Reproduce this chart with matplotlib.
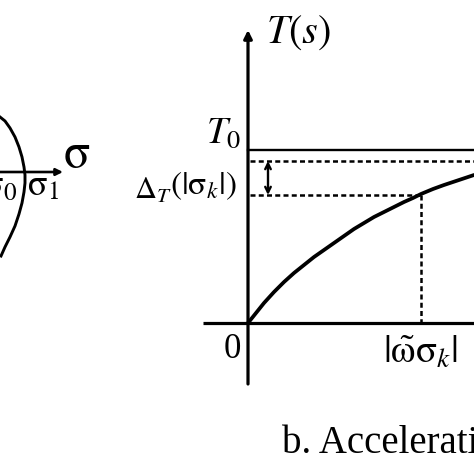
import matplotlib
matplotlib.use('Agg')
import matplotlib.pyplot as plt

# diagram coordinates (pixel space, y grows downwards)
origin = (248, 323)
t0_level = 150
delta_top = 161
delta_bottom = 195
sigma_k_x = 421

# T(s) curve, points
curve_x = [248, 256, 264, 274, 284, 294, 304, 314, 324, 334, 344, 354, 364, 374, 384, 394, 404, 413, 421, 433, 444, 459, 474]
curve_y = [323, 313, 303, 292, 282, 273, 265, 257, 250, 243, 236, 229, 223, 217, 212, 207, 202, 198, 194, 189, 185, 180, 175]

# left panel: closed boundary and sigma axis
left_x = [0, 5, 10, 15, 19, 22, 24, 25, 25, 24, 22, 19, 15, 10, 5, 1]
left_y = [117, 121, 128, 137, 147, 157, 167, 175, 183, 192, 203, 214, 226, 237, 247, 256]
sigma_axis_y = 172

plt.rcParams['font.family'] = ['Liberation Serif', 'DejaVu Serif']
plt.rcParams['mathtext.fontset'] = 'stix'


def main():
	fig = plt.figure(figsize=(4.74, 4.74), dpi=100)
	ax = fig.add_axes([0, 0, 1, 1])
	ax.set_xlim(0, 474)
	ax.set_ylim(474, 0)
	ax.axis('off')

	ox, oy = origin
	dash = (0, (2.0, 1.3))

	# axes of panel b
	ax.annotate('', xy=(ox, 30), xytext=(ox, 384),
		arrowprops=dict(arrowstyle='-|>', lw=2.3, color='black',
			mutation_scale=12, shrinkA=0, shrinkB=0))
	ax.plot([203, 474], [oy, oy], color='black', lw=2.3, solid_capstyle='butt')

	# T0 level and the delta levels
	ax.plot([ox, 474], [t0_level, t0_level], color='black', lw=1.7)
	ax.plot([ox + 2, 474], [delta_top, delta_top], color='black', lw=1.8, ls=dash)
	ax.plot([ox + 2, sigma_k_x], [delta_bottom, delta_bottom], color='black', lw=1.8, ls=dash)
	ax.plot([sigma_k_x, sigma_k_x], [delta_bottom, oy], color='black', lw=1.8, ls=dash)
	ax.annotate('', xy=(268, delta_top), xytext=(268, delta_bottom),
		arrowprops=dict(arrowstyle='<->', lw=1.7, color='black',
			mutation_scale=10, shrinkA=0, shrinkB=0))

	# T(s)
	ax.plot(curve_x, curve_y, color='black', lw=2.7, solid_capstyle='round',
		solid_joinstyle='round')

	# labels of panel b
	ax.text(266, 43, r'$T(s)$', fontsize=29, ha='left', va='baseline')
	ax.text(241, 143, r'$T_0$', fontsize=27, ha='right', va='baseline')
	ax.text(172, 199, r'$\Delta_T$', fontsize=22, ha='right', va='baseline')
	ax.text(170, 194, r'$(|\mathrm{\sigma}_k|)$', fontsize=24, ha='left', va='baseline')
	ax.text(241, 358, '0', fontsize=25, ha='right', va='baseline')
	ax.text(sigma_k_x, 363, r'$|\tilde{\mathrm{\omega}}\mathrm{\sigma}_k|$', fontsize=28,
		ha='center', va='baseline')
	ax.text(282, 453, 'b. Acceleration', fontsize=28, ha='left', va='baseline')

	# left panel
	ax.plot(left_x, left_y, color='black', lw=2.1, solid_joinstyle='round')
	ax.annotate('', xy=(63, sigma_axis_y), xytext=(-5, sigma_axis_y),
		arrowprops=dict(arrowstyle='-|>', lw=1.9, color='black',
			mutation_scale=10, shrinkA=0, shrinkB=0))
	ax.text(63, 168, r'$\mathrm{\sigma}$', fontsize=35, ha='left', va='baseline')
	ax.text(18, 195, r'$\tilde{\mathrm{\omega}}\mathrm{\sigma}_0$', fontsize=26, ha='right', va='baseline')
	ax.text(27, 195, r'$\mathrm{\sigma}_1$', fontsize=26, ha='left', va='baseline')

	fig.savefig('out.png', dpi=100)


main()
